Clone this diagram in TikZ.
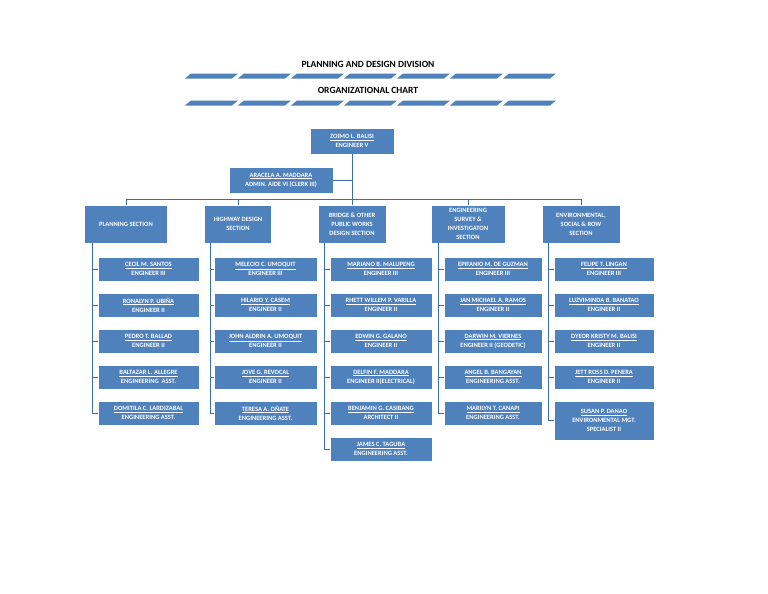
\documentclass[tikz,border=0pt]{standalone}
\usepackage{fontspec}
\setmainfont{Carlito}
\newcommand\ul[1]{\underline{#1}}
\definecolor{boxblue}{HTML}{4F81BD}
\definecolor{linebl}{HTML}{3F6FA8}
\begin{document}
\begin{tikzpicture}[x=1pt,y=-1pt,
  bx/.style={fill=boxblue,draw=white,line width=0.6pt,text=white,font=\bfseries\fontsize{6.5}{9}\selectfont,align=center,inner sep=1pt},
  conn/.style={draw=linebl,line width=1pt},
  bar/.style={fill=boxblue}]
\useasboundingbox[fill=white] (0,0) rectangle (768,594);
\node[font=\bfseries\fontsize{9.5}{11}\selectfont] (t1) at (368,64) {PLANNING AND DESIGN DIVISION};
\node[font=\bfseries\fontsize{9.5}{11}\selectfont] (t2) at (368,90) {ORGANIZATIONAL CHART};
\foreach \yy in {76,103}{
 \foreach \i in {0,...,6}{
  \pgfmathsetmacro\xa{185+\i*53}
  \fill[bar] (\xa,\yy+2.5) -- (\xa+47,\yy+2.5) -- (\xa+53,\yy-2.5) -- (\xa+6,\yy-2.5) -- cycle;
 }}
\newcommand\bxat[5]{\node[bx,minimum width=#3,minimum height=#4] (#1) at (#2) {#5};}
\bxat{top}{352,141}{84}{26}{\ul{ZOIMO L. BALISI}\\ENGINEER V}
\bxat{adm}{281,180}{104}{26}{\ul{ARACELA A. MADDARA}\\ADMIN. AIDE VI (CLERK III)}
\bxat{s1}{126,224}{83}{38}{PLANNING SECTION}
\bxat{s2}{238,224}{67}{38}{HIGHWAY DESIGN\\SECTION}
\bxat{s3}{352,224}{68}{38}{BRIDGE \& OTHER\\PUBLIC WORKS\\DESIGN SECTION}
\bxat{s4}{468,224}{74}{38}{ENGINEERING\\SURVEY \&\\INVESTIGATON\\SECTION}
\bxat{s5}{581,224}{78}{38}{ENVIRONMENTAL,\\SOCIAL \& ROW\\SECTION}
\coordinate (bL) at (126,199); \coordinate (bR) at (581,199);
\draw[conn] (top.south) -- (352,205);
\draw[conn] (adm.east) -- (352,180);
\draw[conn] (bL) -- (bR);
\foreach \s/\x in {s1/126,s2/238,s4/468,s5/581}{\draw[conn] (\x,199) -- (\s.north);}
\newcommand\kid[6]{%
 \node[bx,minimum width=#4,minimum height=#5] (#1) at (#2,#3) {#6};}
\foreach \n/\t [count=\k] in {
 {CECIL M. SANTOS}/{ENGINEER III},{RONALYN P. UBIÑA}/{ENGINEER II},{PEDRO T. BALLAD}/{ENGINEER II},
 {BALTAZAR L. ALLEGRE}/{ENGINEERING\ \ ASST.},{DOMITILA C. LARDIZABAL}/{ENGINEERING ASST.}}{
 \pgfmathsetmacro\cy{269+(\k-1)*36}
 \kid{a\k}{148.5}{\cy}{101}{24}{\ul{\n}\\\t}
 \draw[conn] (92,\cy) -- (a\k.west);}
\draw[conn] (s1.south -| 92,0) -- (92,413);
\foreach \n/\t [count=\k] in {
 {MELECIO C. UMOQUIT}/{ENGINEER III},{HILARIO Y. CASEM}/{ENGINEER II},{JOHN ALDRIN A. UMOQUIT}/{ENGINEER II},
 {JOVE G. REVOCAL}/{ENGINEER II},{TERESA A. OÑATE}/{ENGINEERING ASST.}}{
 \pgfmathsetmacro\cy{269+(\k-1)*36}
 \kid{b\k}{265.5}{\cy}{103}{24}{\ul{\n}\\\t}
 \draw[conn] (210,\cy) -- (b\k.west);}
\draw[conn] (s2.south -| 210,0) -- (210,413);
\foreach \n/\t [count=\k] in {
 {MARIANO B. MALUPENG}/{ENGINEER III},{RHETT WILLEM P. VARILLA}/{ENGINEER II},{EDWIN G. GALANO}/{ENGINEER II},
 {DELFIN F. MADDARA}/{ENGINEER II(ELECTRICAL)},{BENJAMIN G. CASIBANG}/{ARCHITECT II},{JAMES C. TAGUBA}/{ENGINEERING ASST.}}{
 \pgfmathsetmacro\cy{269+(\k-1)*36}
 \kid{c\k}{381}{\cy}{102}{24}{\ul{\n}\\\t}
 \draw[conn] (324,\cy) -- (c\k.west);}
\draw[conn] (s3.south -| 324,0) -- (324,449);
\foreach \n/\t [count=\k] in {
 {EPIFANIO M. DE GUZMAN}/{ENGINEER III},{JAN MICHAEL A. RAMOS}/{ENGINEER II},{DARWIN M. VIERNES}/{ENGINEER II (GEODETIC)},
 {ANGEL B. BANGAYAN}/{ENGINEERING ASST.},{MARILYN T. CANAPI}/{ENGINEERING ASST.}}{
 \pgfmathsetmacro\cy{269+(\k-1)*36}
 \kid{d\k}{493}{\cy}{98}{24}{\ul{\n}\\\t}
 \draw[conn] (438,\cy) -- (d\k.west);}
\draw[conn] (s4.south -| 438,0) -- (438,413);
\foreach \n/\t [count=\k] in {
 {FELIPE T. LINGAN}/{ENGINEER III},{LUZVIMINDA B. BANATAO}/{ENGINEER II},{DYEOR KRISTY M. BALISI}/{ENGINEER II},
 {JETT ROSS D. PENERA}/{ENGINEER II}}{
 \pgfmathsetmacro\cy{269+(\k-1)*36}
 \kid{e\k}{604}{\cy}{100}{24}{\ul{\n}\\\t}
 \draw[conn] (548,\cy) -- (e\k.west);}
\kid{e5}{604}{420.5}{100}{39}{\ul{SUSAN P. DANAO}\\ENVIRONMENTAL MGT.\\SPECIALIST II}
\draw[conn] (548,420.5) -- (e5.west);
\draw[conn] (s5.south -| 548,0) -- (548,420.5);
\end{tikzpicture}
\end{document}
